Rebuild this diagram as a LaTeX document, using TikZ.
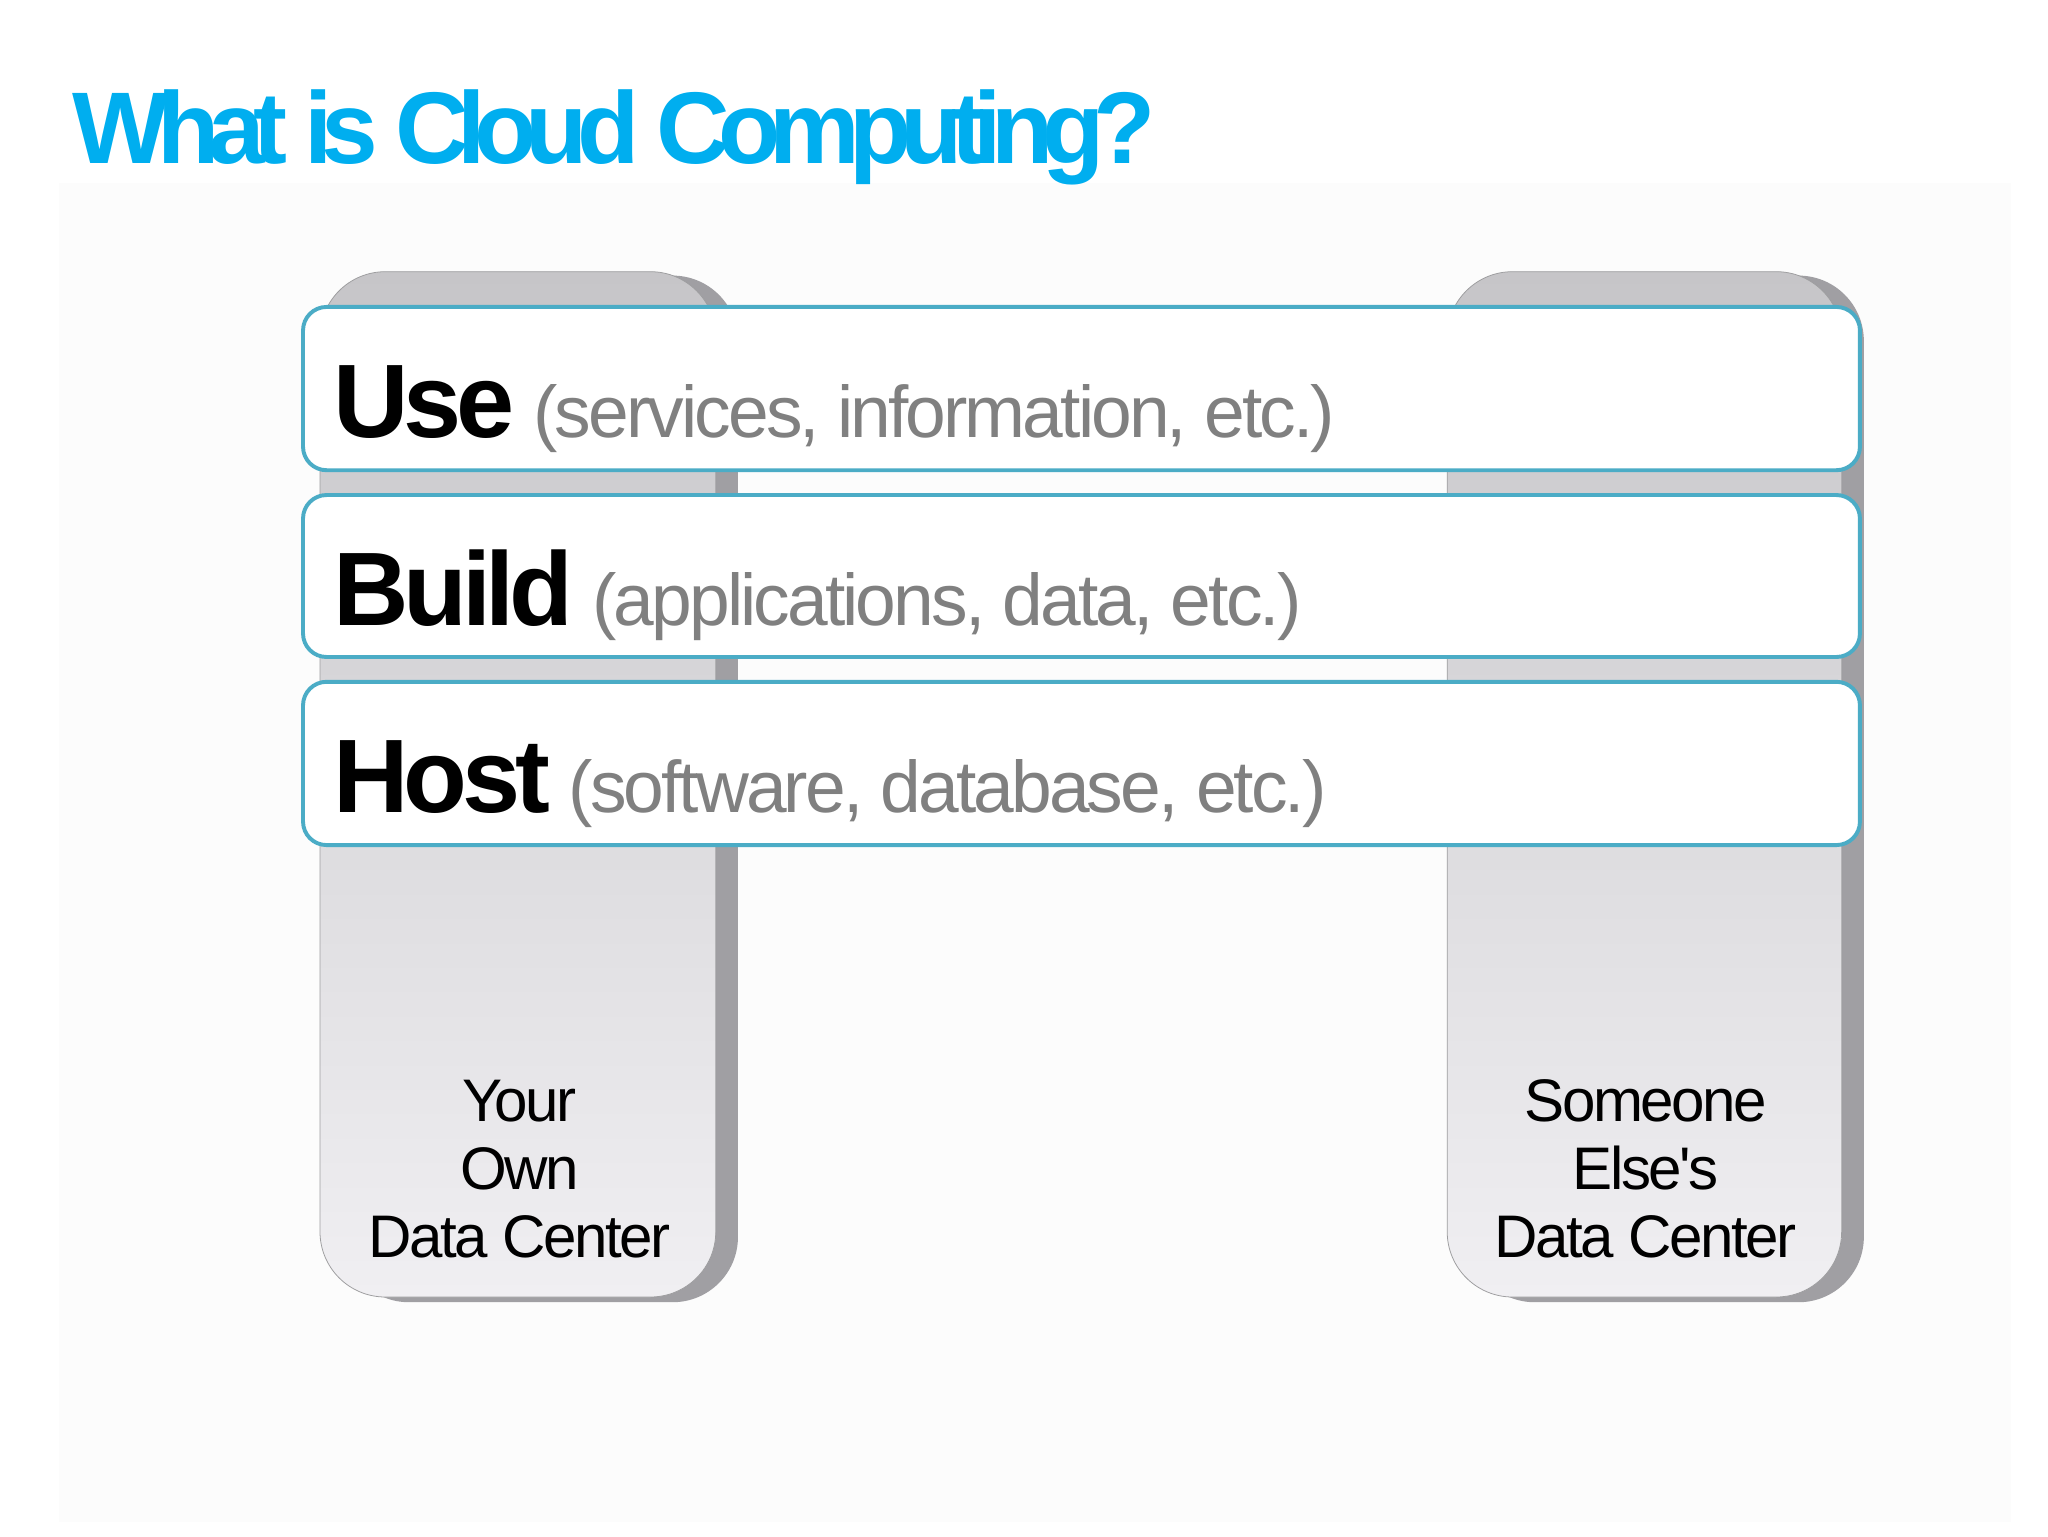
\documentclass[tikz,border=0pt]{standalone}
\usepackage{fontspec}
\setmainfont{Liberation Sans}
\newfontfamily\titlef[LetterSpace=-11]{Liberation Sans Bold}
\newfontfamily\tightb[LetterSpace=-5]{Liberation Sans Bold}
\newfontfamily\tightr[LetterSpace=-4]{Liberation Sans}
\definecolor{ttl}{HTML}{00AEEF}
\definecolor{bord}{HTML}{4BACC6}
\definecolor{pilltop}{HTML}{C6C5C8}
\definecolor{pillbot}{HTML}{F0EFF2}
\definecolor{shad}{HTML}{A09FA3}
\definecolor{paren}{HTML}{808080}
\begin{document}
\begin{tikzpicture}[x=1pt,y=-1pt,
  pill/.style={rounded corners=50pt,top color=pilltop,bottom color=pillbot,draw=pilltop!80!black,line width=0.6pt},
  shadowp/.style={rounded corners=50pt,fill=shad},
  bar/.style={rounded corners=18pt,fill=white,draw=bord,line width=3pt},
  big/.style={anchor=base west,font=\tightb\fontsize{80}{82}\selectfont,inner sep=0},
  par/.style={anchor=base west,font=\tightr\fontsize{56}{58}\selectfont,text=paren,inner sep=0},
  ptxt/.style={align=center,font=\tightr\fontsize{46}{52}\selectfont,inner sep=0}]
\useasboundingbox (0,0) rectangle (1568,1176);
\fill[black!1] (45,140) rectangle (1540,1165);
\node[anchor=base west,text=ttl,font=\titlef\fontsize{78}{80}\selectfont,inner sep=0] (title) at (55,125) {What is Cloud Computing?};
% pillars
\fill[shadowp] (263,211) rectangle (565,997);
\draw[pill] (245,208) rectangle (548,993);
\fill[shadowp] (1125,211) rectangle (1427,997);
\draw[pill] (1108,208) rectangle (1410,993);
\node[ptxt] (own) at (398,895) {Your\\Own\\Data Center};
\node[ptxt] (else) at (1260,895) {Someone\\Else's\\Data Center};
% bars
\draw[bar] (232,235) rectangle (1424,360);
\draw[bar] (232,379) rectangle (1424,503);
\draw[bar] (232,522) rectangle (1424,647);
\node[big] (use) at (255,335) {Use};
\node[par] (usep) at ([xshift=14pt]use.base east) {(services, information, etc.)};
\node[big] (build) at (255,479) {Build};
\node[par] (buildp) at ([xshift=14pt]build.base east) {(applications, data, etc.)};
\node[big] (host) at (255,622) {Host};
\node[par] (hostp) at ([xshift=14pt]host.base east) {(software, database, etc.)};
\end{tikzpicture}
\end{document}
